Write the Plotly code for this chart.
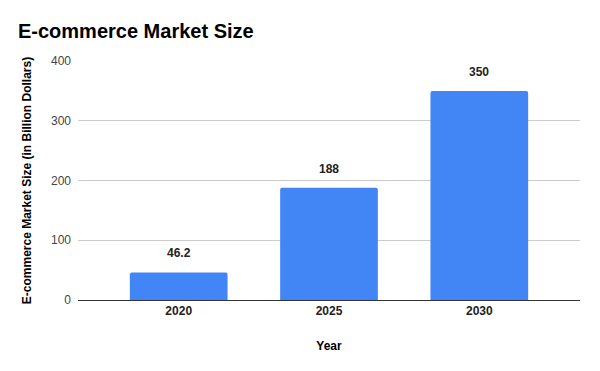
import plotly.graph_objects as go

years = ["2020", "2025", "2030"]
market_size = [46.2, 188, 350]
labels = ["46.2", "188", "350"]
y_ticks = [0, 100, 200, 300, 400]

FONT = "Arial, Liberation Sans, sans-serif"

fig = go.Figure()
fig.add_trace(go.Bar(
    x=years, y=market_size,
    marker=dict(color="#4285F4", line=dict(width=0)),
    width=0.65,
    hoverinfo="skip",
))

for i, (v, t) in enumerate(zip(market_size, labels)):
    fig.add_annotation(x=i, y=v, xref="x", yref="y", text=f"<b>{t}</b>", showarrow=False,
                       yshift=19, font=dict(family=FONT, size=12, color="#222222"))

fig.update_layout(
    width=600, height=371,
    margin=dict(l=78, r=20, t=61, b=71),
    paper_bgcolor="white", plot_bgcolor="white",
    barcornerradius=2,
    showlegend=False,
    title=dict(text="<b>E-commerce Market Size</b>", x=18/600, xanchor="left",
               y=1 - 31/371, yanchor="middle",
               font=dict(family=FONT, size=20, color="#000000")),
    font=dict(family=FONT, size=12, color="#444444"),
)
fig.update_xaxes(
    type="category", range=[-0.67, 2.67],
    tickfont=dict(family=FONT, size=12, color="#222222", weight="bold"),
    showgrid=False, ticks="", showline=True, linecolor="#333333", linewidth=1,
    title=dict(text="<b>Year</b>", font=dict(family=FONT, size=12, color="#000000"), standoff=24),
)
fig.update_yaxes(
    range=[0, 400], tickvals=y_ticks, ticktext=[str(v) for v in y_ticks],
    tickfont=dict(family=FONT, size=12, color="#444444"),
    showgrid=True, gridcolor="#cccccc", gridwidth=1, zeroline=False,
    ticks="", ticklabelstandoff=6,
    title=dict(text="<b>E-commerce Market Size (in Billion Dollars)</b>",
               font=dict(family=FONT, size=12, color="#000000"), standoff=16),
)

fig.write_html("out.html", config={"displayModeBar": False},
               post_script="document.body.style.margin='0';")
